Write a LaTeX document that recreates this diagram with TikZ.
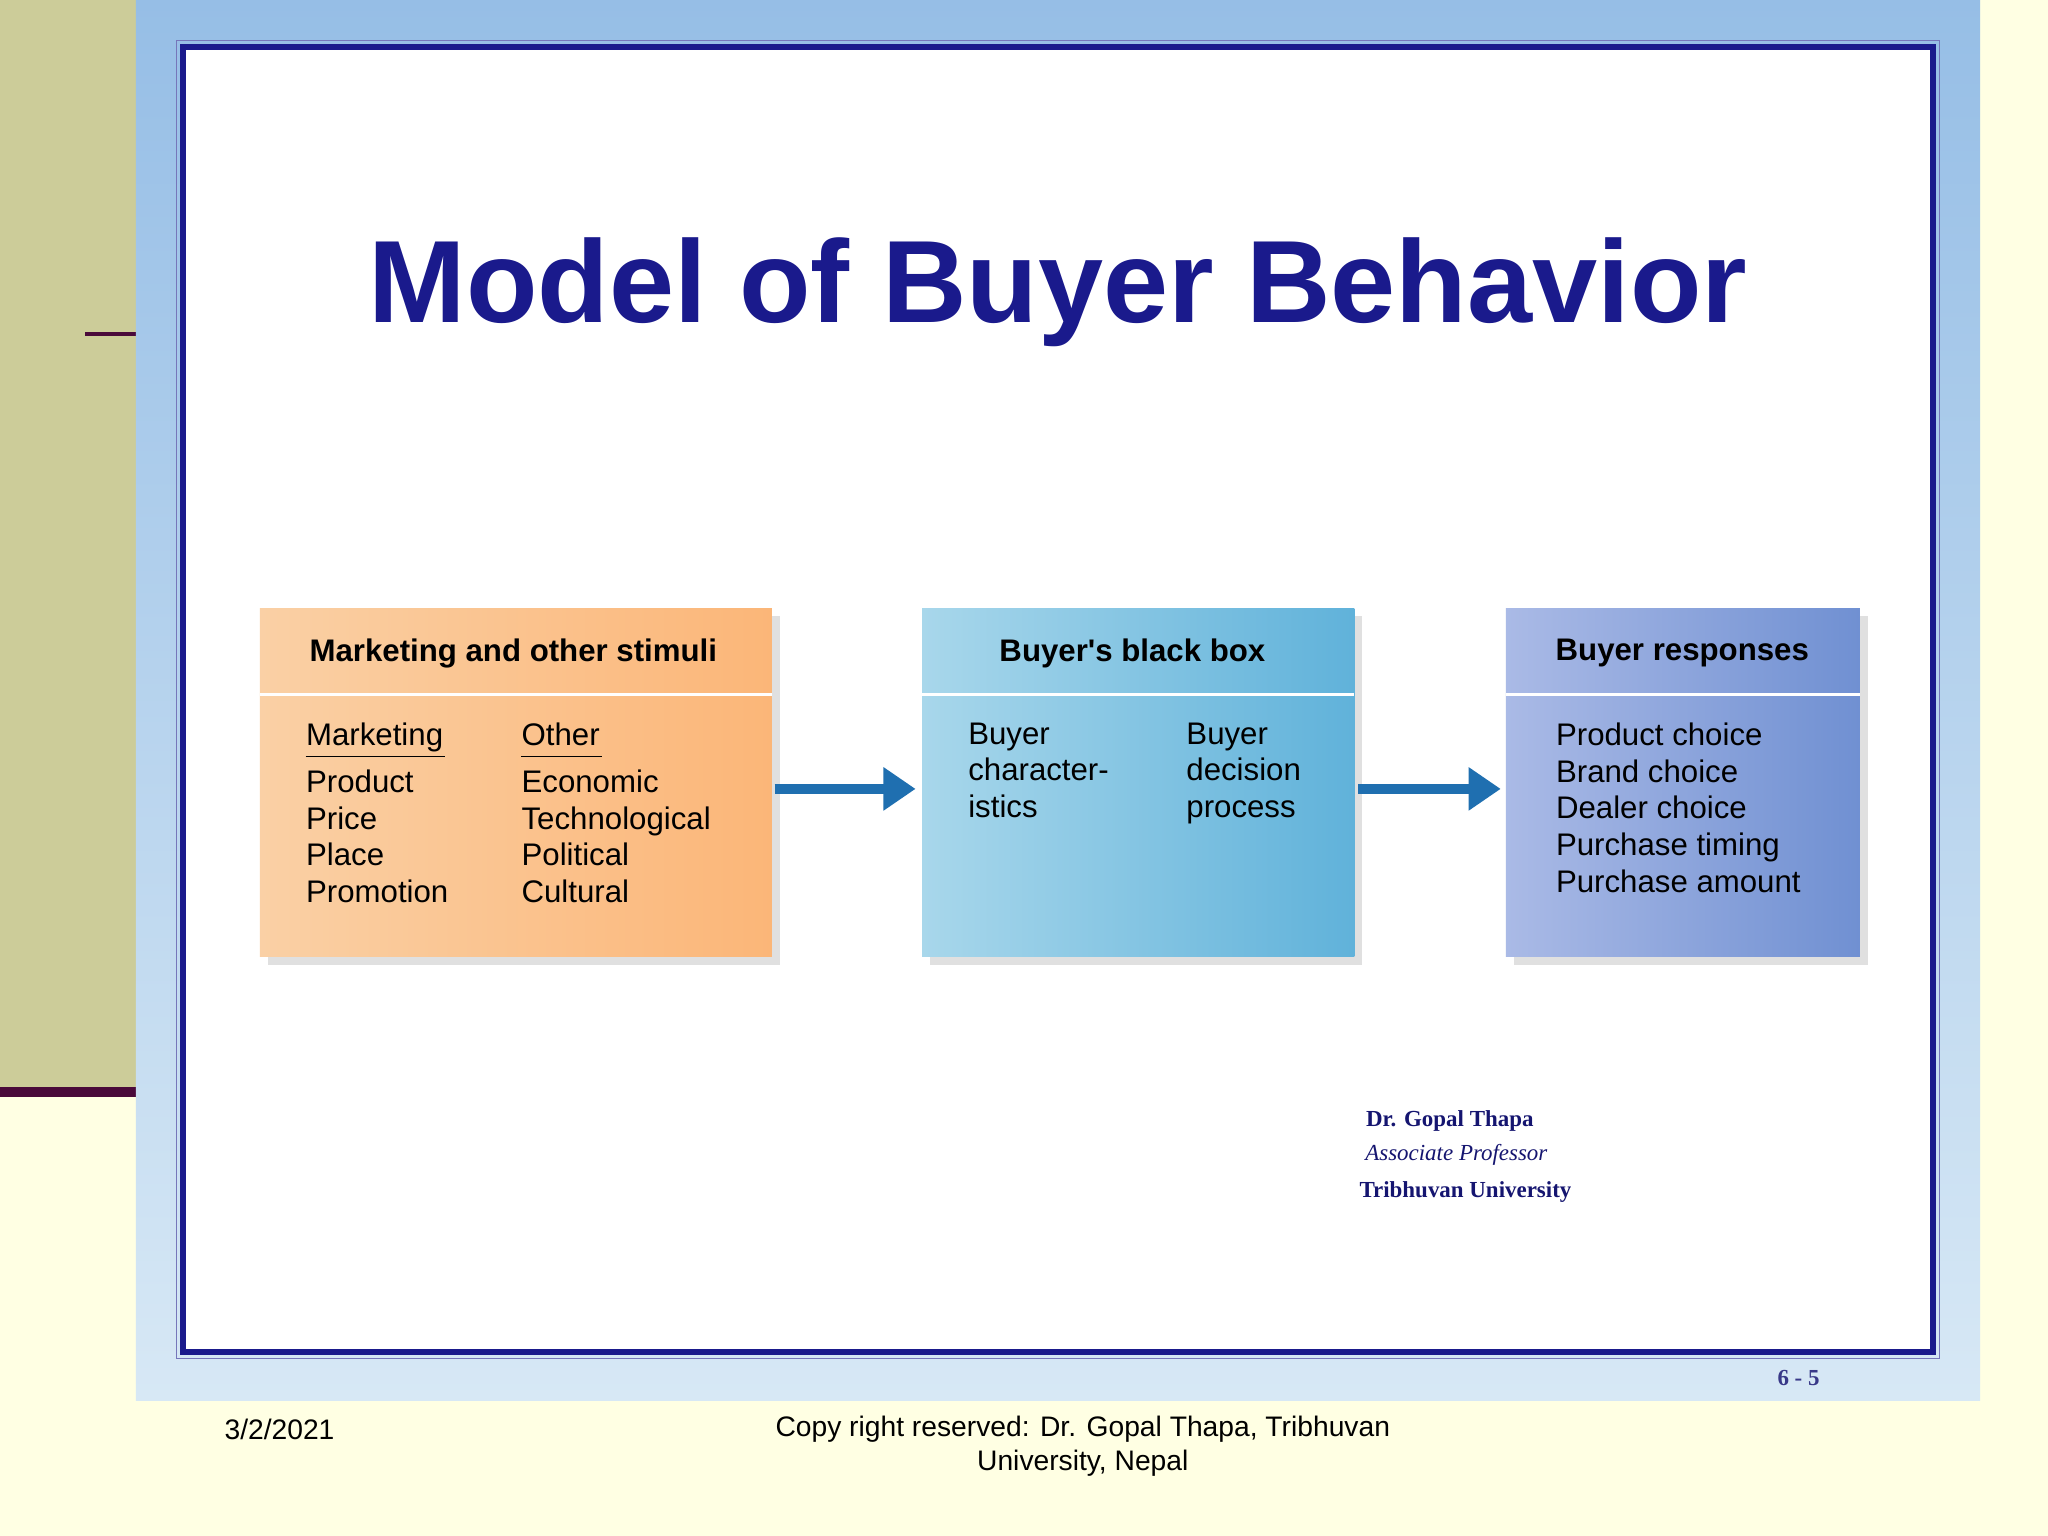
\documentclass[tikz,border=0pt]{standalone}
\usepackage{fontspec}
\setmainfont{Liberation Sans}
\newfontfamily\serifsig{Liberation Serif}
\usetikzlibrary{arrows.meta}
\definecolor{cream}{HTML}{FFFFE3}
\definecolor{olive}{HTML}{CCCC99}
\definecolor{maroon}{HTML}{4A0A3A}
\definecolor{navy}{HTML}{1A1A8C}
\definecolor{arrowblue}{HTML}{1F6FB0}
\tikzset{
 boxtxt/.style={anchor=north west,align=left,font=\fontsize{13.6}{16}\selectfont,inner sep=0pt},
 hdr/.style={font=\bfseries\fontsize{13.6}{16}\selectfont,inner sep=0pt},
 flow/.style={arrowblue,line width=4.5pt,-{Triangle[length=14pt,width=18pt]}},
 shadowbox/.style={fill=black!12,draw=none},
}
\begin{document}
\begin{tikzpicture}[x=0.02cm,y=-0.02cm]
\useasboundingbox (0,0) rectangle (1568,1176);
\fill[cream] (0,0) rectangle (1568,1176);
\fill[olive] (0,0) rectangle (104,835);
\fill[maroon] (0,832) rectangle (104,840);
\fill[maroon] (65,254) rectangle (104,257);
% slide background
\shade[top color={rgb,255:red,150;green,190;blue,230}, bottom color={rgb,255:red,215;green,232;blue,245}] (104,0) rectangle (1516,1072);
\fill[white] (140,36) rectangle (1480,1035);
\draw[navy,line width=2.5pt] (140,36) rectangle (1480,1035);
\draw[navy!60,line width=0.6pt] (135,31) rectangle (1485,1040);
% title
\node[navy,font=\bfseries\fontsize{51}{60}\selectfont] (title) at (810,224) {Model of Buyer Behavior};
% shadows
\fill[shadowbox] (205,472) rectangle (597,739);
\fill[shadowbox] (712,472) rectangle (1043,739);
\fill[shadowbox] (1159,472) rectangle (1430,739);
% boxes
\shade[left color={rgb,255:red,250;green,208;blue,165}, right color={rgb,255:red,251;green,182;blue,120}] (199,466) rectangle (591,732);
\shade[left color={rgb,255:red,168;green,215;blue,235}, right color={rgb,255:red,96;green,178;blue,218}] (706,466) rectangle (1037,732);
\shade[left color={rgb,255:red,170;green,186;blue,230}, right color={rgb,255:red,112;green,144;blue,210}] (1153,466) rectangle (1424,732);
\draw[white,line width=1.2pt] (199,532) -- (591,532) (706,532) -- (1037,532) (1153,532) -- (1424,532);
\node[hdr] (h1) at (393,500) {Marketing and other stimuli};
\node[hdr] (h2) at (867,500) {Buyer\textquotesingle s black box};
\node[hdr] (h3) at (1288,500) {Buyer responses};
\node[boxtxt] (m1) at (234,553) {Marketing};
\draw (234,579) -- (341,579);
\node[boxtxt] (m2) at (234,589) {Product\\Price\\Place\\Promotion};
\node[boxtxt] (o1) at (399,553) {Other};
\draw (399,579) -- (461,579);
\node[boxtxt] (o2) at (399,589) {Economic\\Technological\\Political\\Cultural};
\node[boxtxt] (b1) at (741,553) {Buyer\\character-\\istics};
\node[boxtxt] (b2) at (908,553) {Buyer\\decision\\process};
\node[boxtxt] (r1) at (1191,553) {Product choice\\Brand choice\\Dealer choice\\Purchase timing\\Purchase amount};
\coordinate (a1s) at (593,604); \coordinate (a1e) at (701,604);
\coordinate (a2s) at (1040,604); \coordinate (a2e) at (1149,604);
\draw[flow] (a1s) -- (a1e);
\draw[flow] (a2s) -- (a2e);
% signature
\node[navy!80!black,font=\serifsig\bfseries\fontsize{10}{12}\selectfont] (s1) at (1110,858) {Dr. Gopal Thapa};
\node[navy!80!black,font=\serifsig\itshape\fontsize{10}{12}\selectfont] (s2) at (1115,884) {Associate Professor};
\node[navy!80!black,font=\serifsig\bfseries\fontsize{10}{12}\selectfont] (s3) at (1122,913) {Tribhuvan University};
\node[navy!70!gray,font=\serifsig\bfseries\fontsize{10}{12}\selectfont] (pg) at (1377,1055) {6 - 5};
% footer
\node[font=\fontsize{12.3}{15}\selectfont] (date) at (214,1094) {3/2/2021};
\node[align=center,font=\fontsize{12.3}{14.7}\selectfont] (copy) at (829,1107) {Copy right reserved: Dr. Gopal Thapa, Tribhuvan\\University, Nepal};
\end{tikzpicture}
\end{document}
